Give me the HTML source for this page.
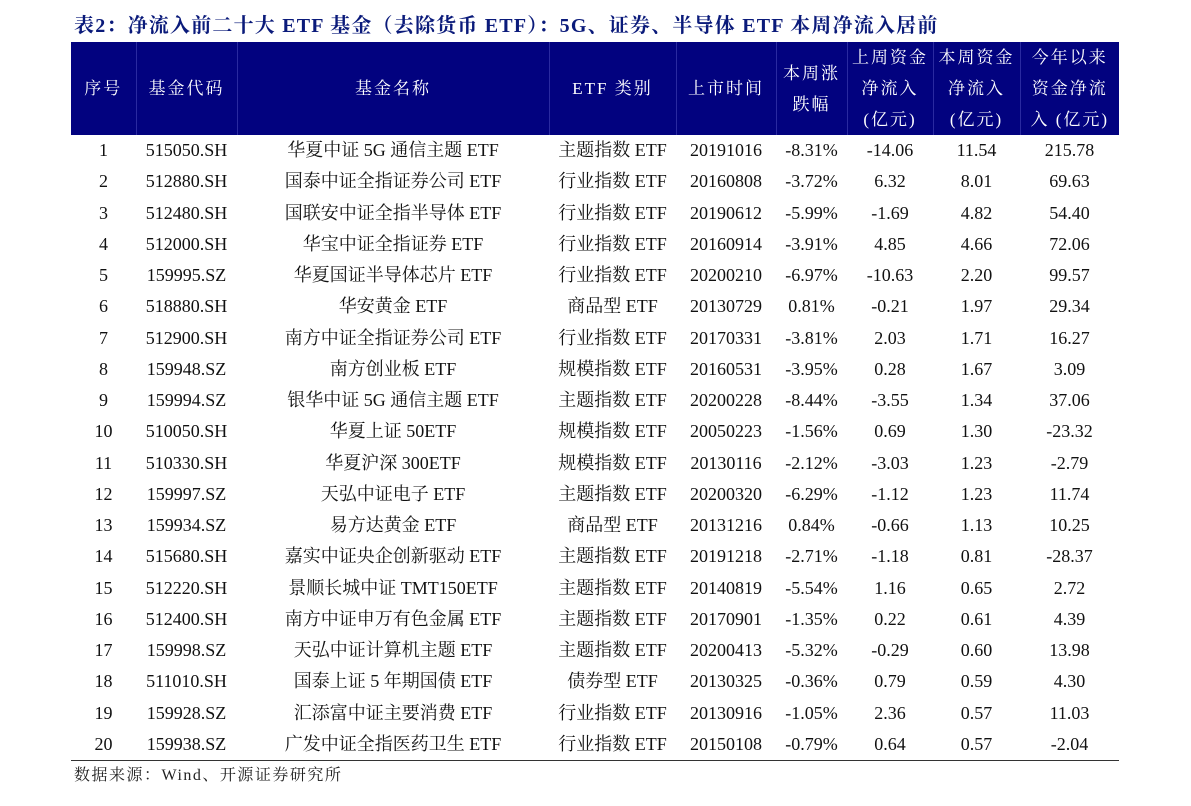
<!DOCTYPE html>
<html><head><meta charset="utf-8"><style>
body{margin:0;background:#fff;width:1191px;height:806px;position:relative;overflow:hidden;font-family:"Liberation Serif","Noto Serif CJK SC",serif;}
.title{position:absolute;left:74px;top:13px;font-size:20px;line-height:26px;font-weight:bold;color:#0a1a7a;white-space:nowrap;letter-spacing:1.2px}
table{position:absolute;left:71px;top:42px;border-collapse:collapse;table-layout:fixed;width:1048px}
th{background:#02027f;color:#fff;font-weight:normal;font-size:17px;line-height:31px;height:93px;padding:0;border-left:1px solid #2a2aa0;letter-spacing:2px;vertical-align:middle}
th:first-child{border-left:none}
td{height:31.25px;line-height:31px;padding:0;text-align:center;font-size:18px;color:#111;white-space:nowrap;vertical-align:middle;overflow:hidden}
td span{display:inline-block;line-height:31px;vertical-align:top}
tbody tr:last-child td{border-bottom:1.5px solid #333}
.src{position:absolute;left:74px;top:765px;font-size:16px;line-height:22px;color:#222;letter-spacing:1.5px}
</style></head><body>
<div class="title">表2：净流入前二十大 ETF 基金（去除货币 ETF）：5G、证券、半导体 ETF 本周净流入居前</div>
<table>
<colgroup><col style="width:65px"><col style="width:101px"><col style="width:312px"><col style="width:127px"><col style="width:100px"><col style="width:71px"><col style="width:86px"><col style="width:87px"><col style="width:99px"></colgroup>
<thead><tr><th>序号</th><th>基金代码</th><th>基金名称</th><th>ETF 类别</th><th>上市时间</th><th>本周涨<br>跌幅</th><th>上周资金<br>净流入<br>(亿元)</th><th>本周资金<br>净流入<br>(亿元)</th><th>今年以来<br>资金净流<br>入 (亿元)</th></tr></thead>
<tbody>
<tr><td>1</td><td>515050.SH</td><td><span>华夏中证 5G 通信主题 ETF</span></td><td><span>主题指数 ETF</span></td><td>20191016</td><td>-8.31%</td><td>-14.06</td><td>11.54</td><td>215.78</td></tr>
<tr><td>2</td><td>512880.SH</td><td><span>国泰中证全指证券公司 ETF</span></td><td><span>行业指数 ETF</span></td><td>20160808</td><td>-3.72%</td><td>6.32</td><td>8.01</td><td>69.63</td></tr>
<tr><td>3</td><td>512480.SH</td><td><span>国联安中证全指半导体 ETF</span></td><td><span>行业指数 ETF</span></td><td>20190612</td><td>-5.99%</td><td>-1.69</td><td>4.82</td><td>54.40</td></tr>
<tr><td>4</td><td>512000.SH</td><td><span>华宝中证全指证券 ETF</span></td><td><span>行业指数 ETF</span></td><td>20160914</td><td>-3.91%</td><td>4.85</td><td>4.66</td><td>72.06</td></tr>
<tr><td>5</td><td>159995.SZ</td><td><span>华夏国证半导体芯片 ETF</span></td><td><span>行业指数 ETF</span></td><td>20200210</td><td>-6.97%</td><td>-10.63</td><td>2.20</td><td>99.57</td></tr>
<tr><td>6</td><td>518880.SH</td><td><span>华安黄金 ETF</span></td><td><span>商品型 ETF</span></td><td>20130729</td><td>0.81%</td><td>-0.21</td><td>1.97</td><td>29.34</td></tr>
<tr><td>7</td><td>512900.SH</td><td><span>南方中证全指证券公司 ETF</span></td><td><span>行业指数 ETF</span></td><td>20170331</td><td>-3.81%</td><td>2.03</td><td>1.71</td><td>16.27</td></tr>
<tr><td>8</td><td>159948.SZ</td><td><span>南方创业板 ETF</span></td><td><span>规模指数 ETF</span></td><td>20160531</td><td>-3.95%</td><td>0.28</td><td>1.67</td><td>3.09</td></tr>
<tr><td>9</td><td>159994.SZ</td><td><span>银华中证 5G 通信主题 ETF</span></td><td><span>主题指数 ETF</span></td><td>20200228</td><td>-8.44%</td><td>-3.55</td><td>1.34</td><td>37.06</td></tr>
<tr><td>10</td><td>510050.SH</td><td><span>华夏上证 50ETF</span></td><td><span>规模指数 ETF</span></td><td>20050223</td><td>-1.56%</td><td>0.69</td><td>1.30</td><td>-23.32</td></tr>
<tr><td>11</td><td>510330.SH</td><td><span>华夏沪深 300ETF</span></td><td><span>规模指数 ETF</span></td><td>20130116</td><td>-2.12%</td><td>-3.03</td><td>1.23</td><td>-2.79</td></tr>
<tr><td>12</td><td>159997.SZ</td><td><span>天弘中证电子 ETF</span></td><td><span>主题指数 ETF</span></td><td>20200320</td><td>-6.29%</td><td>-1.12</td><td>1.23</td><td>11.74</td></tr>
<tr><td>13</td><td>159934.SZ</td><td><span>易方达黄金 ETF</span></td><td><span>商品型 ETF</span></td><td>20131216</td><td>0.84%</td><td>-0.66</td><td>1.13</td><td>10.25</td></tr>
<tr><td>14</td><td>515680.SH</td><td><span>嘉实中证央企创新驱动 ETF</span></td><td><span>主题指数 ETF</span></td><td>20191218</td><td>-2.71%</td><td>-1.18</td><td>0.81</td><td>-28.37</td></tr>
<tr><td>15</td><td>512220.SH</td><td><span>景顺长城中证 TMT150ETF</span></td><td><span>主题指数 ETF</span></td><td>20140819</td><td>-5.54%</td><td>1.16</td><td>0.65</td><td>2.72</td></tr>
<tr><td>16</td><td>512400.SH</td><td><span>南方中证申万有色金属 ETF</span></td><td><span>主题指数 ETF</span></td><td>20170901</td><td>-1.35%</td><td>0.22</td><td>0.61</td><td>4.39</td></tr>
<tr><td>17</td><td>159998.SZ</td><td><span>天弘中证计算机主题 ETF</span></td><td><span>主题指数 ETF</span></td><td>20200413</td><td>-5.32%</td><td>-0.29</td><td>0.60</td><td>13.98</td></tr>
<tr><td>18</td><td>511010.SH</td><td><span>国泰上证 5 年期国债 ETF</span></td><td><span>债券型 ETF</span></td><td>20130325</td><td>-0.36%</td><td>0.79</td><td>0.59</td><td>4.30</td></tr>
<tr><td>19</td><td>159928.SZ</td><td><span>汇添富中证主要消费 ETF</span></td><td><span>行业指数 ETF</span></td><td>20130916</td><td>-1.05%</td><td>2.36</td><td>0.57</td><td>11.03</td></tr>
<tr><td>20</td><td>159938.SZ</td><td><span>广发中证全指医药卫生 ETF</span></td><td><span>行业指数 ETF</span></td><td>20150108</td><td>-0.79%</td><td>0.64</td><td>0.57</td><td>-2.04</td></tr>
</tbody></table>
<div class="src">数据来源：Wind、开源证券研究所</div>
</body></html>
